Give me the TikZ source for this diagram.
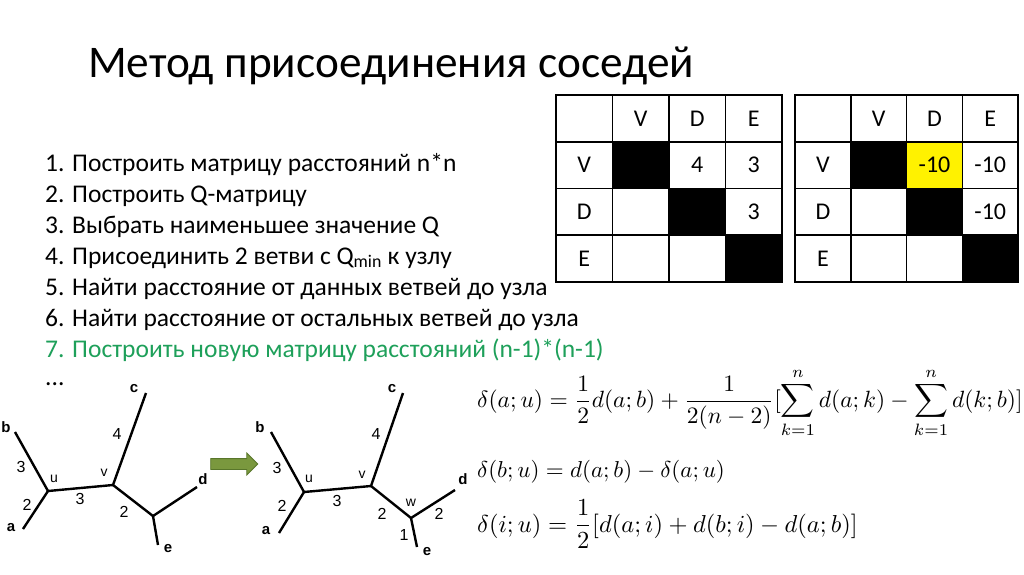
\documentclass[tikz,border=0pt]{standalone}
\usepackage[no-math]{fontspec}
\setmainfont{Carlito}
\newfontfamily\treefont{Liberation Sans}
\usetikzlibrary{shapes.arrows}

\definecolor{stepgreen}{RGB}{30,160,90}
\definecolor{arrowgreen}{RGB}{122,152,62}
\definecolor{arrowedge}{RGB}{88,118,42}

\tikzset{
    cell/.style={draw, line width=1.7pt, inner sep=0pt, minimum width=56.5pt, minimum height=46.7pt},
    cellb/.style={cell, minimum width=55.8pt},
    celltext/.style={inner sep=0pt, font=\fontsize{24}{28}\selectfont},
    stepline/.style={anchor=base west, inner sep=0pt, font=\fontsize{25.5}{30}\selectfont},
    branch/.style={line width=2.4pt},
    leaf/.style={font=\treefont\bfseries\fontsize{15}{15}\selectfont, inner sep=0pt},
    inner/.style={font=\treefont\fontsize{14}{14}\selectfont, inner sep=0pt},
    len/.style={font=\treefont\fontsize{16}{16}\selectfont, inner sep=0pt},
    formula/.style={anchor=base west, inner sep=0pt}
}

\begin{document}
\begin{tikzpicture}[x=1pt, y=-1pt]
    \useasboundingbox[fill=white] (0,0) rectangle (1024,574);

    % title
    \node[anchor=base west, inner sep=0pt, font=\fontsize{45.3}{50}\selectfont] (title) at (88,77) {Метод присоединения соседей};

    % steps
    \node[stepline] (s1) at (45,171) {1. Построить матрицу расстояний n*n};
    \node[stepline] (s2) at (45,202) {2. Построить Q-матрицу};
    \node[stepline] (s3) at (45,233) {3. Выбрать наименьшее значение Q};
    \node[stepline] (s4) at (45,264) {4. Присоединить 2 ветви с Q\textsubscript{min} к узлу};
    \node[stepline] (s5) at (45,295) {5. Найти расстояние от данных ветвей до узла};
    \node[stepline] (s6) at (45,326) {6. Найти расстояние от остальных ветвей до узла};
    \node[stepline, text=stepgreen] (s7) at (45,357) {7. Построить новую матрицу расстояний (n-1)*(n-1)};
    \node[stepline] (dots) at (45,385) {...};

    % distance matrix
    \foreach \r in {0,...,3}
        \foreach \c in {0,...,3}
            \node[cell] (d\r\c) at (584.2+56.5*\c, 118.4+46.7*\r) {};
    \foreach \i in {1,2,3}
        \node[cell, fill=black] at (d\i\i) {};
    \node[celltext] at (d01) {V};
    \node[celltext] at (d02) {D};
    \node[celltext] at (d03) {E};
    \node[celltext] at (d10) {V};
    \node[celltext] at (d20) {D};
    \node[celltext] at (d30) {E};
    \node[celltext] at (d12) {4};
    \node[celltext] at (d13) {3};
    \node[celltext] at (d23) {3};

    % Q matrix
    \foreach \r in {0,...,3}
        \foreach \c in {0,...,3}
            \node[cellb] (q\r\c) at (822.9+55.8*\c, 118.4+46.7*\r) {};
    \foreach \i in {1,2,3}
        \node[cellb, fill=black] at (q\i\i) {};
    \node[cellb, fill=yellow] at (q12) {};
    \node[celltext] at (q01) {V};
    \node[celltext] at (q02) {D};
    \node[celltext] at (q03) {E};
    \node[celltext] at (q10) {V};
    \node[celltext] at (q20) {D};
    \node[celltext] at (q30) {E};
    \node[celltext] at (q12) {-10};
    \node[celltext] at (q13) {-10};
    \node[celltext] at (q23) {-10};

    % tree before joining
    \coordinate (a1) at (23,529);
    \coordinate (b1) at (15,432);
    \coordinate (u1) at (48,491);
    \coordinate (v1) at (113,485);
    \coordinate (c1) at (146,393);
    \coordinate (x1) at (153,516);
    \coordinate (d1) at (197,487);
    \coordinate (e1) at (158,545);
    \draw[branch] (a1) -- (u1) -- (b1);
    \draw[branch] (u1) -- (v1) -- (c1);
    \draw[branch] (v1) -- (x1) -- (d1);
    \draw[branch] (x1) -- (e1);
    \node[leaf] (la1) at (11,528) {a};
    \node[leaf] (lb1) at (6,427) {b};
    \node[leaf] (lc1) at (134,389) {c};
    \node[leaf] (ld1) at (203,479) {d};
    \node[leaf] (le1) at (168,549) {e};
    \node[inner] (lu1) at (54,479) {u};
    \node[inner] (lv1) at (104,473) {v};
    \node[len] at (21,467) {3};
    \node[len] at (27,505) {2};
    \node[len] at (80,499) {3};
    \node[len] at (117,434) {4};
    \node[len] at (124,512) {2};

    % arrow
    \node[single arrow, draw=arrowedge, fill=arrowgreen, line width=0.8pt, inner xsep=0pt, inner ysep=5pt,
          single arrow head extend=5.5pt, single arrow head indent=0pt, minimum height=47pt] (go) at (231.5,464) {};

    % tree after joining
    \coordinate (a2) at (279,533);
    \coordinate (b2) at (271,432);
    \coordinate (u2) at (304,492);
    \coordinate (v2) at (371,486);
    \coordinate (c2) at (403,393);
    \coordinate (w2) at (411,518);
    \coordinate (d2) at (455,490);
    \coordinate (e2) at (417,547);
    \draw[branch] (a2) -- (u2) -- (b2);
    \draw[branch] (u2) -- (v2) -- (c2);
    \draw[branch] (v2) -- (w2) -- (d2);
    \draw[branch] (w2) -- (e2);
    \node[leaf] (la2) at (266,531) {a};
    \node[leaf] (lb2) at (260,427) {b};
    \node[leaf] (lc2) at (392,389) {c};
    \node[leaf] (ld2) at (463,479) {d};
    \node[leaf] (le2) at (427,552) {e};
    \node[inner] (lu2) at (309,479) {u};
    \node[inner] (lv2) at (362,475) {v};
    \node[inner] (lw2) at (411,503) {w};
    \node[len] at (277,468) {3};
    \node[len] at (282,506) {2};
    \node[len] at (337,501) {3};
    \node[len] at (376,434) {4};
    \node[len] at (382,514) {2};
    \node[len] at (439,514) {2};
    \node[len] at (404,535) {1};

    % formulas
    \node[formula] (f1) at (477,407) {\scalebox{2.35}{$\displaystyle \delta(a;u)=\frac{1}{2}d(a;b)+\frac{1}{2(n-2)}[\sum_{k=1}^{n}d(a;k)-\sum_{k=1}^{n}d(k;b)]$}};
    \node[formula] (f2) at (477,477) {\scalebox{2.3}{$\delta(b;u)=d(a;b)-\delta(a;u)$}};
    \node[formula] (f3) at (477,532) {\scalebox{2.45}{$\displaystyle \delta(i;u)=\frac{1}{2}[d(a;i)+d(b;i)-d(a;b)]$}};
\end{tikzpicture}
\end{document}
